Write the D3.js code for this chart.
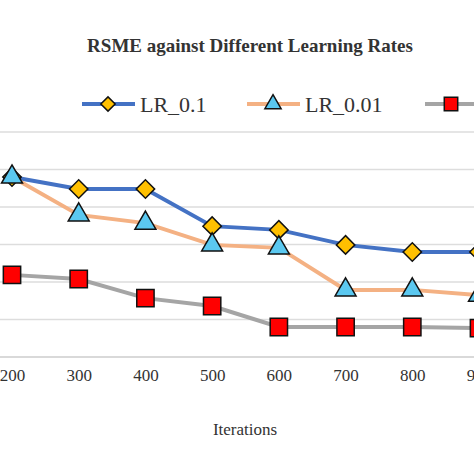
<!DOCTYPE html><html><head><script src="https://cdn.jsdelivr.net/npm/d3@7"></script>
<style>body{margin:0;background:#fff}</style></head><body><svg width="474" height="474"></svg>
<script>
const iterations=[200,300,400,500,600,700,800,900];
const lr01=[4.8,4.48,4.48,3.49,3.39,2.99,2.8,2.8];
const lr001=[4.8,3.79,3.57,2.99,2.91,1.79,1.79,1.65];
const lr0001=[2.19,2.08,1.57,1.36,0.8,0.8,0.8,0.77];
const seriesNames=["LR_0.1","LR_0.01","LR_0.001"];
const yTicks=[0,1,2,3,4,5,6];
const svg=d3.select("svg");
const x=d3.scaleLinear().domain([200,900]).range([12,479]);
const y=d3.scaleLinear().domain([0,6]).range([357,132]);
const font="Liberation Serif, DejaVu Serif, serif";
svg.append("text").attr("x",250).attr("y",52).attr("text-anchor","middle").attr("font-family",font).attr("font-weight","bold").attr("font-size",19).attr("fill","#333").text("RSME against Different Learning Rates");
svg.append("g").selectAll("line").data(yTicks).join("line").attr("x1",-5).attr("x2",480).attr("y1",d=>y(d)).attr("y2",d=>y(d)).attr("stroke",d=>d===0?"#ccc":"#ddd").attr("stroke-width",1.5);
const ax=svg.append("g").attr("transform","translate(0,357)").call(d3.axisBottom(x).tickValues(iterations).tickSize(0).tickPadding(12).tickFormat(d3.format("d")));
ax.select(".domain").remove();
ax.selectAll("text").attr("font-family",font).attr("font-size",17).attr("fill","#333");
svg.append("text").attr("x",245).attr("y",435).attr("text-anchor","middle").attr("font-family",font).attr("font-size",17).attr("fill","#333").text("Iterations");
const series=[
 {name:seriesNames[0],vals:lr01,color:"#4472c4",sym:d3.symbolSquare,rot:45,size:170,fill:"#ffc000"},
 {name:seriesNames[1],vals:lr001,color:"#f4b183",sym:d3.symbolTriangle,rot:0,size:190,fill:"#5bc8f0"},
 {name:seriesNames[2],vals:lr0001,color:"#a5a5a5",sym:d3.symbolSquare,rot:0,size:300,fill:"#ff0000"}];
const line=d3.line().x((d,i)=>x(iterations[i])).y(d=>y(d));
series.forEach(s=>{
 svg.append("path").attr("d",line(s.vals)).attr("fill","none").attr("stroke",s.color).attr("stroke-width",4);
});
series.forEach(s=>{
 svg.append("g").selectAll("path").data(s.vals).join("path")
  .attr("transform",(d,i)=>`translate(${x(iterations[i])},${y(d)}) rotate(${s.rot})`)
  .attr("d",d3.symbol().type(s.sym).size(s.size)).attr("fill",s.fill).attr("stroke","#111").attr("stroke-width",1.5);
});
const lx=[82,247,425];
series.forEach((s,i)=>{
 const g=svg.append("g").attr("transform",`translate(${lx[i]},104)`);
 g.append("line").attr("x1",0).attr("x2",53).attr("stroke",s.color).attr("stroke-width",4);
 g.append("path").attr("transform",`translate(26,0) rotate(${s.rot})`).attr("d",d3.symbol().type(s.sym).size(s.size*0.6)).attr("fill",s.fill).attr("stroke","#111").attr("stroke-width",1.5);
 g.append("text").attr("x",58).attr("y",8).attr("font-family",font).attr("font-size",22).attr("fill","#333").text(s.name);
});
</script></body></html>
